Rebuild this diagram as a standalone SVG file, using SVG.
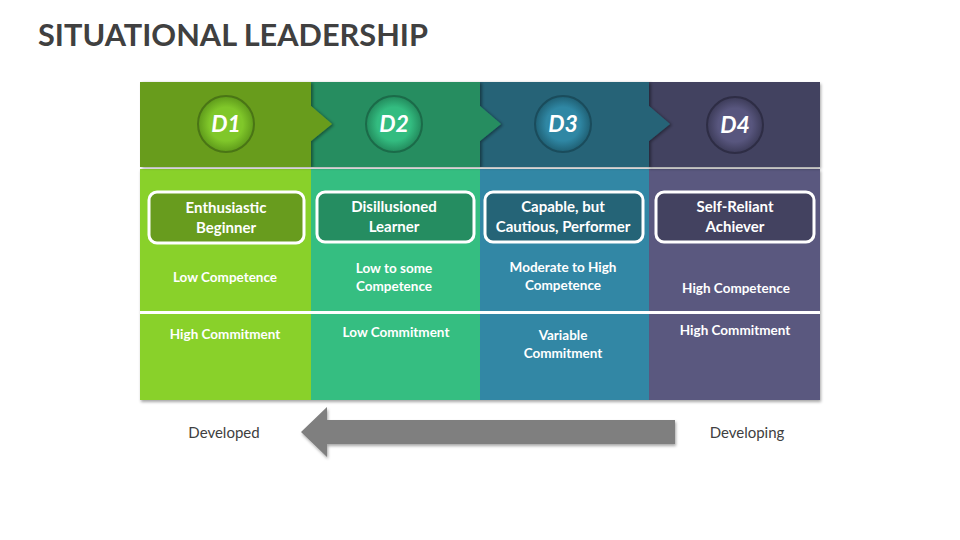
<svg xmlns="http://www.w3.org/2000/svg" width="960" height="540" viewBox="0 0 960 540">
<defs>
<style>
.t{font-family:Lato,"Open Sans","Liberation Sans",sans-serif;fill:#fff;text-anchor:middle}
.lab{font-size:15px;font-weight:700}
.sm{font-size:13.5px;font-weight:700}
.dn{font-size:23px;font-weight:700;font-style:italic}
.side{font-family:Lato,"Open Sans","Liberation Sans",sans-serif;font-size:15px;fill:#404040;text-anchor:middle}
.box{stroke:#fff;stroke-width:3}
</style>
<filter id="sh" x="-10%" y="-10%" width="120%" height="130%">
<feDropShadow dx="1" dy="2" stdDeviation="1.5" flood-color="#000" flood-opacity="0.35"/>
</filter>
<filter id="tip" x="-20%" y="-20%" width="150%" height="150%">
<feDropShadow dx="2" dy="1" stdDeviation="1.5" flood-color="#000" flood-opacity="0.4"/>
</filter>
<radialGradient id="g1"><stop offset="0.6" stop-color="#80C72A"/><stop offset="1" stop-color="#5E9A1A"/></radialGradient>
<radialGradient id="g2"><stop offset="0.6" stop-color="#33BC80"/><stop offset="1" stop-color="#228A5C"/></radialGradient>
<radialGradient id="g3"><stop offset="0.6" stop-color="#2F87A4"/><stop offset="1" stop-color="#1F5F73"/></radialGradient>
<radialGradient id="g4"><stop offset="0.6" stop-color="#58567E"/><stop offset="1" stop-color="#3C3B58"/></radialGradient>
</defs>
<rect width="960" height="540" fill="#fff"/>
<text x="38" y="46" font-family="Lato,'Open Sans','Liberation Sans',sans-serif" font-size="30" font-weight="700" fill="#404040" textLength="390" lengthAdjust="spacingAndGlyphs">SITUATIONAL LEADERSHIP</text>

<g id="body" filter="url(#sh)">
<rect x="140" y="169" width="171" height="231" fill="#89D12A"/>
<rect x="311" y="169" width="169" height="231" fill="#34BE81"/>
<rect x="480" y="169" width="169" height="231" fill="#3087A5"/>
<rect x="649" y="169" width="171" height="231" fill="#5A587F"/>
<rect x="140" y="311" width="680" height="3" fill="#fff"/>
</g>

<g id="header-d4" filter="url(#sh)">
<rect x="649" y="82" width="171" height="85" fill="#434260"/>
</g>
<g id="header-d3" filter="url(#tip)">
<polygon points="480,82 649,82 649,106 670,124 649,141 649,167 480,167" fill="#256477"/>
</g>
<g id="header-d2" filter="url(#tip)">
<polygon points="311,82 480,82 480,106 501,124 480,141 480,167 311,167" fill="#258D61"/>
</g>
<g id="header-d1" filter="url(#tip)">
<polygon points="140,82 311,82 311,106 332,124 311,141 311,167 140,167" fill="#689C1E"/>
</g>

<g id="d1">
<circle cx="226" cy="124" r="28" fill="url(#g1)" stroke="#4A7515" stroke-width="2"/>
<text class="t dn" x="226" y="132">D1</text>
<rect class="box" x="149" y="192" width="155" height="51" rx="8" fill="#689C1E"/>
<text class="t lab" x="226" y="213">Enthusiastic</text>
<text class="t lab" x="226" y="233">Beginner</text>
<text class="t sm" x="225" y="282">Low Competence</text>
<text class="t sm" x="225" y="339">High Commitment</text>
</g>
<g id="d2">
<circle cx="394" cy="124" r="28" fill="url(#g2)" stroke="#1B6B49" stroke-width="2"/>
<text class="t dn" x="394" y="132">D2</text>
<rect class="box" x="317" y="192" width="157" height="50" rx="8" fill="#258D61"/>
<text class="t lab" x="394" y="212">Disillusioned</text>
<text class="t lab" x="394" y="232">Learner</text>
<text class="t sm" x="394" y="273">Low to some</text>
<text class="t sm" x="394" y="291">Competence</text>
<text class="t sm" x="396" y="337">Low Commitment</text>
</g>
<g id="d3">
<circle cx="563" cy="124" r="28" fill="url(#g3)" stroke="#1A4C5C" stroke-width="2"/>
<text class="t dn" x="563" y="132">D3</text>
<rect class="box" x="485" y="192" width="158" height="50" rx="8" fill="#256477"/>
<text class="t lab" x="563" y="212">Capable, but</text>
<text class="t lab" x="563" y="232">Cautious, Performer</text>
<text class="t sm" x="563" y="272">Moderate to High</text>
<text class="t sm" x="563" y="290">Competence</text>
<text class="t sm" x="563" y="340">Variable</text>
<text class="t sm" x="563" y="358">Commitment</text>
</g>
<g id="d4">
<circle cx="735" cy="125" r="28" fill="url(#g4)" stroke="#2E2D45" stroke-width="2"/>
<text class="t dn" x="735" y="133">D4</text>
<rect class="box" x="656" y="192" width="158" height="50" rx="8" fill="#434260"/>
<text class="t lab" x="735" y="212">Self-Reliant</text>
<text class="t lab" x="735" y="232">Achiever</text>
<text class="t sm" x="736" y="293">High Competence</text>
<text class="t sm" x="735" y="335">High Commitment</text>
</g>

<g id="connectors">
<polygon points="675,420 327,420 327,407 301,432 327,457 327,444 675,444" fill="#7F7F7F" filter="url(#sh)"/>
</g>
<text class="side" x="224" y="438">Developed</text>
<text class="side" x="747" y="438">Developing</text>
</svg>
